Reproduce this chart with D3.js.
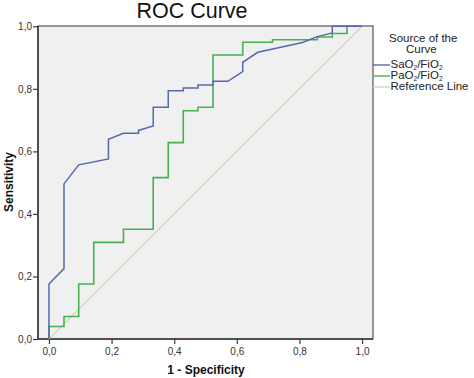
<!DOCTYPE html>
<html>
<head>
<meta charset="utf-8">
<script src="https://cdn.jsdelivr.net/npm/d3@7"></script>
<style>
  html, body { margin: 0; padding: 0; background: #ffffff; }
  svg { display: block; font-family: "Liberation Sans", Arial, sans-serif; }
</style>
</head>
<body>
<svg id="chart" width="474" height="378"></svg>
<script>
// ---- data ----
const chartTitle = "ROC Curve";
const xTitle = "1 - Specificity";
const yTitle = "Sensitivity";
const legendTitle = ["Source of the", "Curve"];
const seriesNames = ["SaO2/FiO2", "PaO2/FiO2", "Reference Line"];

const sao2Fpr = [0, 0, 0.048, 0.048, 0.095, 0.190, 0.190, 0.238, 0.286, 0.286, 0.333, 0.333, 0.381, 0.381, 0.429, 0.429, 0.476, 0.476, 0.524, 0.524, 0.571, 0.619, 0.619, 0.667, 0.810, 0.857, 0.905, 0.905, 1.0];
const sao2Tpr = [0, 0.176, 0.225, 0.496, 0.557, 0.576, 0.639, 0.658, 0.658, 0.667, 0.681, 0.741, 0.741, 0.794, 0.794, 0.803, 0.803, 0.812, 0.812, 0.824, 0.824, 0.855, 0.885, 0.917, 0.948, 0.967, 0.979, 1.0, 1.0];

const pao2Fpr = [0, 0, 0.048, 0.048, 0.095, 0.095, 0.143, 0.143, 0.238, 0.238, 0.333, 0.333, 0.381, 0.381, 0.429, 0.429, 0.476, 0.476, 0.524, 0.524, 0.619, 0.619, 0.714, 0.714, 0.857, 0.857, 0.905, 0.905, 0.952, 0.952, 1.0];
const pao2Tpr = [0, 0.040, 0.040, 0.072, 0.072, 0.176, 0.176, 0.309, 0.309, 0.351, 0.351, 0.516, 0.516, 0.628, 0.628, 0.730, 0.730, 0.741, 0.741, 0.908, 0.908, 0.949, 0.949, 0.957, 0.957, 0.966, 0.966, 0.977, 0.977, 1.0, 1.0];

const refFpr = [0, 1];
const refTpr = [0, 1];

const xTicks = [0, 0.2, 0.4, 0.6, 0.8, 1.0];
const yTicks = [0, 0.2, 0.4, 0.6, 0.8, 1.0];

// ---- drawing ----
const colors = ["#5868b0", "#45b151", "#d9d5b5"];
const svg = d3.select("#chart");

const frame = { left: 38, right: 373, top: 26, bottom: 339 };
const x = d3.scaleLinear().domain([-0.035, 1.035]).range([frame.left, frame.right]);
const y = d3.scaleLinear().domain([0, 1]).range([frame.bottom, frame.top + 0.3]);

// plot background
svg.append("rect")
  .attr("x", frame.left).attr("y", frame.top)
  .attr("width", frame.right - frame.left).attr("height", frame.bottom - frame.top)
  .attr("fill", "#f0f0f0").attr("stroke", "#555").attr("stroke-width", 1.2);

const fmt = d => d.toFixed(1).replace(".", ",");

const xAxis = svg.append("g")
  .attr("transform", `translate(0,${frame.bottom})`)
  .call(d3.axisBottom(x).tickValues(xTicks).tickFormat(fmt).tickSize(5).tickSizeOuter(0));
const yAxis = svg.append("g")
  .attr("transform", `translate(${frame.left},0)`)
  .call(d3.axisLeft(y).tickValues(yTicks).tickFormat(fmt).tickSize(5).tickSizeOuter(0));

[xAxis, yAxis].forEach(g => {
  g.select(".domain").attr("stroke", "#3a3a3a").attr("stroke-width", 1.6);
  g.selectAll(".tick line").attr("stroke", "#3a3a3a").attr("stroke-width", 1.2);
  g.selectAll(".tick text").attr("fill", "#333").attr("font-size", "10px")
    .attr("font-family", "'Liberation Sans', Arial, sans-serif");
});
xAxis.select(".domain").attr("d", `M${frame.left},0H${frame.right}`);
yAxis.select(".domain").attr("d", `M0,${frame.top}V${frame.bottom}`);
xAxis.selectAll(".tick text").attr("y", 9);
yAxis.selectAll(".tick text").attr("x", -6);

const line = d3.line().x(d => x(d[0])).y(d => y(d[1]));

function drawSeries(fpr, tpr, color, width) {
  const pts = fpr.map((f, i) => [f, tpr[i]]);
  svg.append("path").datum(pts)
    .attr("d", line)
    .attr("fill", "none")
    .attr("stroke", color)
    .attr("stroke-width", width)
    .attr("stroke-linejoin", "miter");
}
drawSeries(refFpr, refTpr, colors[2], 1.3);
drawSeries(pao2Fpr, pao2Tpr, colors[1], 1.6);
drawSeries(sao2Fpr, sao2Tpr, colors[0], 1.5);

// title
svg.append("text").attr("x", 192).attr("y", 18.3)
  .attr("text-anchor", "middle").attr("font-size", "21.5px").attr("fill", "#111")
  .text(chartTitle);

// axis titles
svg.append("text").attr("x", 206).attr("y", 374)
  .attr("text-anchor", "middle").attr("font-size", "12px").attr("font-weight", "bold").attr("fill", "#111")
  .text(xTitle);
svg.append("text")
  .attr("transform", `translate(12.7,182) rotate(-90)`)
  .attr("text-anchor", "middle").attr("font-size", "12px").attr("font-weight", "bold").attr("fill", "#111")
  .text(yTitle);

// legend
svg.append("text").attr("x", 389).attr("y", 41.5)
  .attr("font-size", "11.5px").attr("fill", "#222").text(legendTitle[0]);
svg.append("text").attr("x", 406).attr("y", 52.5)
  .attr("font-size", "11.5px").attr("fill", "#222").text(legendTitle[1]);

const legendY = [65, 76, 87];
seriesNames.forEach((name, i) => {
  svg.append("line")
    .attr("x1", 373).attr("x2", 390)
    .attr("y1", legendY[i]).attr("y2", legendY[i])
    .attr("stroke", colors[i]).attr("stroke-width", 1.4);
  const t = svg.append("text").attr("x", 390.5).attr("y", legendY[i] + 3)
    .attr("font-size", "11.5px").attr("fill", "#222");
  // render "2" as subscript
  const parts = name.split(/(2)/).filter(p => p !== "");
  let shift = 0;
  parts.forEach(p => {
    if (p === "2") {
      t.append("tspan").attr("font-size", "6.5px").attr("dy", 1.8 - shift).text("2");
      shift = 1.8;
    } else {
      t.append("tspan").attr("dy", -shift).text(p);
      shift = 0;
    }
  });
});
</script>
</body>
</html>
